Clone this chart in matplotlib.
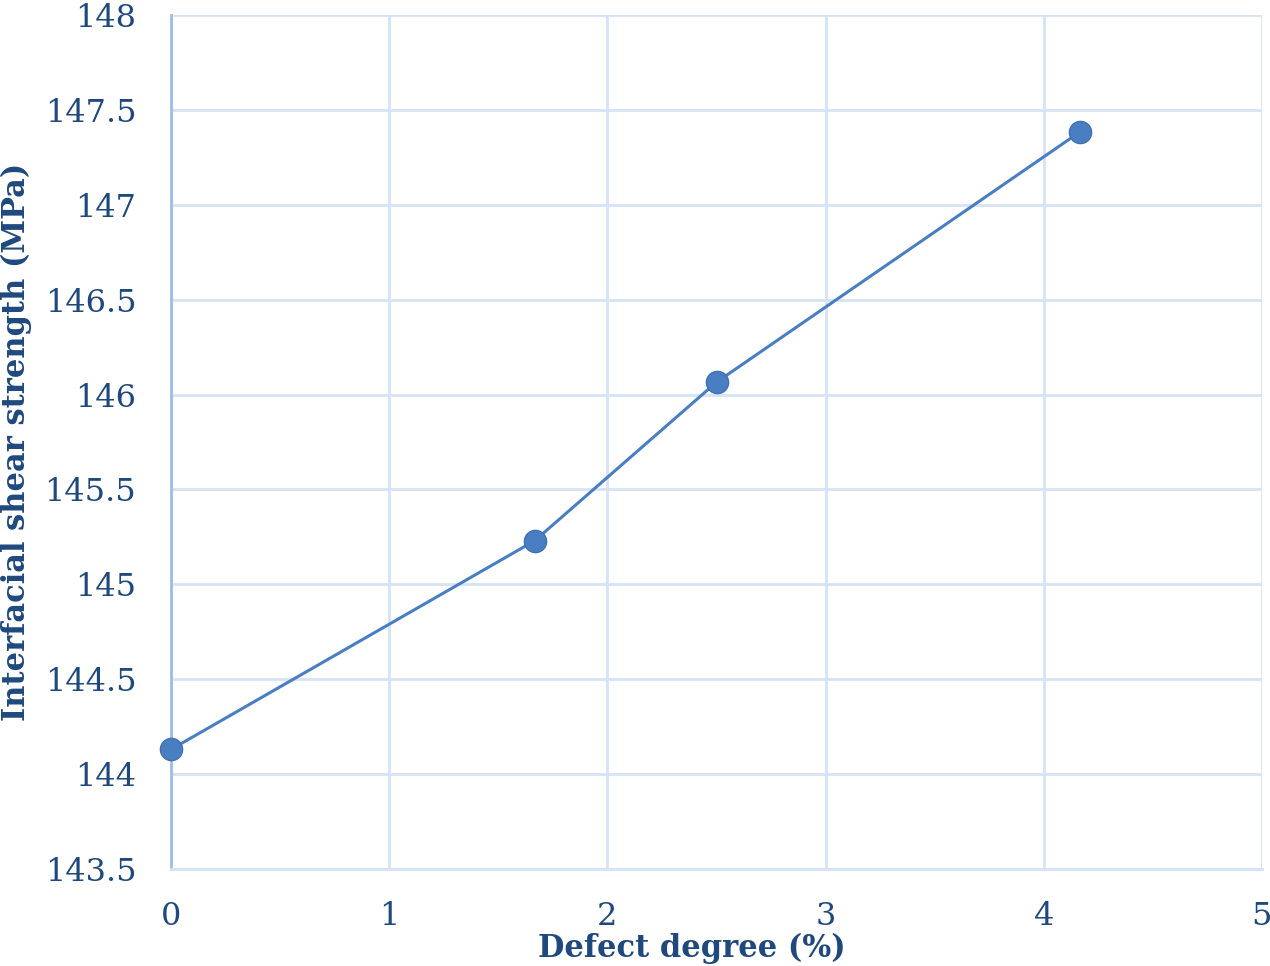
import matplotlib
matplotlib.use("Agg")
import matplotlib.pyplot as plt

defect_degree = [0.0, 1.667, 2.5, 4.167]
shear_strength = [144.13, 145.23, 146.065, 147.385]
x_ticks = [0, 1, 2, 3, 4, 5]
y_ticks = [143.5, 144, 144.5, 145, 145.5, 146, 146.5, 147, 147.5, 148]
x_label = "Defect degree (%)"
y_label = "Interfacial shear strength (MPa)"

text_color = "#1F497D"
grid_color = "#D6E3F4"
line_color = "#4A7EC2"

fig = plt.figure(figsize=(12.7, 9.66), dpi=100)
ax = fig.add_axes([171/1270, 1 - 869/966, (1262-171)/1270, (869-15)/966])

ax.plot(defect_degree, shear_strength, color=line_color, lw=2.2,
        marker="o", ms=16, mfc=line_color, mec="#3F70B0", mew=1, zorder=3,
        clip_on=False)

ax.set_xlim(0, 5)
ax.set_ylim(143.5, 148)
ax.set_xticks(x_ticks)
ax.set_yticks(y_ticks)
ax.set_xticklabels([str(v) for v in x_ticks])
ax.set_yticklabels([f"{v:g}" for v in y_ticks])
ax.grid(True, color=grid_color, lw=2)
ax.set_axisbelow(True)
for s in ["top", "right"]:
    ax.spines[s].set_visible(False)
ax.spines["bottom"].set_color(grid_color)
ax.spines["bottom"].set_linewidth(2)
ax.spines["left"].set_color("#9DBDE6")
ax.spines["left"].set_linewidth(2)
ax.tick_params(length=0, labelsize=23, labelcolor=text_color)
ax.tick_params(axis="y", pad=25)
ax.tick_params(axis="x", pad=23)
for lab in ax.get_xticklabels() + ax.get_yticklabels():
    lab.set_family("DejaVu Serif")

fig.text(692/1270, 1 - 948/966, x_label, ha="center", va="center",
         fontsize=22, fontweight="bold", color=text_color, family="DejaVu Serif")
fig.text(16/1270, 1 - 442/966, y_label, ha="center", va="center", rotation=90,
         fontsize=22, fontweight="bold", color=text_color, family="DejaVu Serif")

fig.savefig("out.png", dpi=100)
